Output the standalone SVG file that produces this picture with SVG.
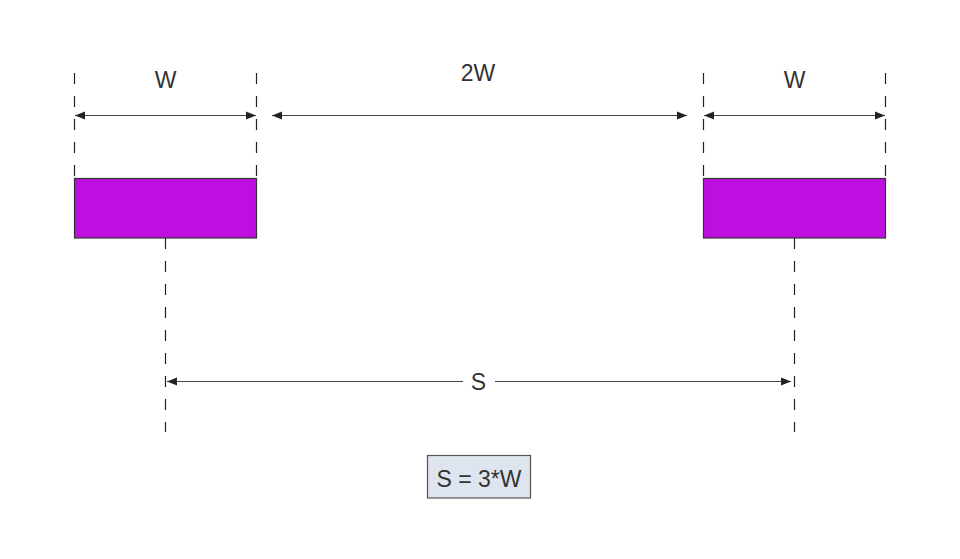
<svg xmlns="http://www.w3.org/2000/svg" width="960" height="559" viewBox="0 0 960 559">
<style>
.lbl{font-family:"Liberation Sans",Arial,sans-serif;font-size:23px;fill:#333;text-anchor:middle}
.dash{stroke:#222;stroke-width:1.2;stroke-dasharray:11 12;fill:none}
.dim{stroke:#444;stroke-width:1.2;fill:none}
.bar{fill:#bd10e0;stroke:#333;stroke-width:1.2}
</style>
<defs>
<marker id="ah" viewBox="0 0 10 10" refX="10" refY="5" markerWidth="10" markerHeight="10" markerUnits="userSpaceOnUse" orient="auto-start-reverse">
<path d="M0,1 L10,5 L0,9 Z" fill="#222"/>
</marker>
</defs>
<rect width="960" height="559" fill="#fff"/>
<g id="connectors">
<line class="dash" x1="74.5" y1="73" x2="74.5" y2="178"/>
<line class="dash" x1="256.5" y1="73" x2="256.5" y2="178"/>
<line class="dash" x1="703.5" y1="73" x2="703.5" y2="178"/>
<line class="dash" x1="885.5" y1="73" x2="885.5" y2="178"/>
<line class="dash" x1="165.5" y1="238" x2="165.5" y2="432"/>
<line class="dash" x1="794.5" y1="238" x2="794.5" y2="432"/>
<line class="dim" x1="75" y1="115.5" x2="256" y2="115.5" marker-start="url(#ah)" marker-end="url(#ah)"/>
<line class="dim" x1="272" y1="115.5" x2="687" y2="115.5" marker-start="url(#ah)" marker-end="url(#ah)"/>
<line class="dim" x1="704" y1="115.5" x2="885" y2="115.5" marker-start="url(#ah)" marker-end="url(#ah)"/>
<line class="dim" x1="167" y1="381.5" x2="463" y2="381.5" marker-start="url(#ah)"/>
<line class="dim" x1="495" y1="381.5" x2="791" y2="381.5" marker-end="url(#ah)"/>
</g>
<g id="bar-left"><rect class="bar" x="74.5" y="178.5" width="182" height="59.5"/></g>
<g id="bar-right"><rect class="bar" x="703.5" y="178.5" width="182" height="59.5"/></g>
<g id="label-w-left"><text class="lbl" x="165.5" y="88">W</text></g>
<g id="label-2w"><text class="lbl" x="478" y="81">2W</text></g>
<g id="label-w-right"><text class="lbl" x="794.5" y="88">W</text></g>
<g id="label-s"><text class="lbl" x="478.5" y="390">S</text></g>
<g id="formula">
<rect x="427.5" y="455.5" width="103" height="42.5" fill="#dfe5ee" stroke="#555" stroke-width="1.2"/>
<text class="lbl" x="479" y="487">S = 3*W</text>
</g>
</svg>
